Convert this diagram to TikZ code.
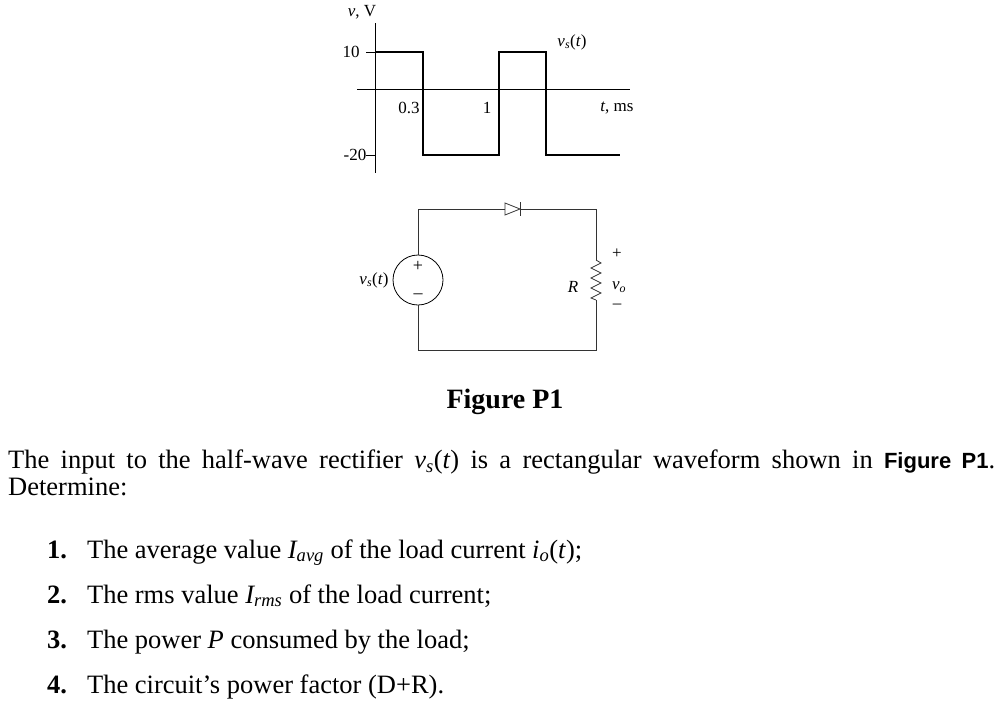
\documentclass[tikz,border=0pt]{standalone}
\usepackage{fontspec}
\setmainfont{Liberation Serif}
\setsansfont{Liberation Sans}
\usetikzlibrary{calc}
\begin{document}
\begin{tikzpicture}[x=1pt,y=-1pt,
  wire/.style={line width=0.8pt,draw=black!80},
  wave/.style={line width=2.2pt,line join=miter},
  ax/.style={line width=1pt},
  lbl/.style={font=\fontsize{17}{19}\selectfont,inner sep=0pt},
  body/.style={font=\fontsize{26.5}{27}\selectfont,inner sep=0pt,anchor=base west}]
\useasboundingbox (0,0) rectangle (1002,702);
% graph
\draw[ax] (375,23) -- (375,173);
\draw[ax] (357,89) -- (630,89);
\draw[ax] (366,52) -- (375,52);
\draw[ax] (366,155) -- (375,155);
\draw[wave] (375,52) -- (423,52) -- (423,155) -- (499,155) -- (499,52) -- (546,52) -- (546,155) -- (620,155);
\node[lbl] (vV) at (362,12) {\textit{v}, V};
\node[lbl] (t10) at (351,52) {10};
\node[lbl] (tm20) at (355,155) {-20};
\node[lbl] (t03) at (409,108) {0.3};
\node[lbl] (t1) at (487,108) {1};
\node[lbl] (tms) at (617,108) {\textit{t}, ms};
\node[lbl] (vst) at (572,42) {\textit{v\textsubscript{s}}(\textit{t})};
% circuit
\coordinate (tl) at (418,209);
\coordinate (tr) at (596,209);
\coordinate (bl) at (418,350);
\coordinate (br) at (596,350);
\node[circle,draw,line width=0.8pt,minimum size=50pt,inner sep=0pt] (src) at (418,280) {};
\node[lbl,font=\fontsize{18}{18}\selectfont] (sp) at (418,266) {+};
\node[lbl,font=\fontsize{18}{18}\selectfont] (sm) at (418,296) {--};
\coordinate (da) at (505,209);
\coordinate (dk) at (520,209);
\draw[wire] (src.north) -- (tl) -- (da);
\draw[wire,fill=white] (da) ++(0,-6) -- ++(0,12) -- (dk) -- cycle;
\draw[wire] ($(dk)+(0,-7)$) -- ($(dk)+(0,7)$);
\draw[wire] (dk) -- (tr) -- (596,260);
\draw[wire] (596,260) -- (601,263) -- (591,268) -- (601,273) -- (591,278) -- (601,283) -- (591,288) -- (601,293) -- (591,298) -- (596,300);
\draw[wire] (596,300) -- (br) -- (bl) -- (src.south);
\node[lbl] (vsl) at (374,280) {\textit{v\textsubscript{s}}(\textit{t})};
\node[lbl] (R) at (573,287) {\textit{R}};
\node[lbl] (vp) at (617,254) {+};
\node[lbl] (vo) at (619,287) {\textit{v\textsubscript{o}}};
\node[lbl] (vm) at (617,306) {--};
% text
\node[font=\bfseries\fontsize{28}{30}\selectfont,inner sep=0pt] (fig) at (505,402) {Figure P1};
\node[body,anchor=north west,text width=987pt,align=justify] (par) at (8,450) {The input to the half-wave rectifier \textit{v\textsubscript{s}}(\textit{t}) is a rectangular waveform shown in {\sffamily\bfseries\fontsize{22}{25}\selectfont Figure P1}.\linebreak \mbox{Determine:}};
\node[body] (n1) at (47,558) {\textbf{1.}\hspace{20pt}The average value \textit{I\textsubscript{avg}} of the load current \textit{i\textsubscript{o}}(\textit{t});};
\node[body] (n2) at (47,603) {\textbf{2.}\hspace{20pt}The rms value \textit{I\textsubscript{rms}} of the load current;};
\node[body] (n3) at (47,648) {\textbf{3.}\hspace{20pt}The power \textit{P} consumed by the load;};
\node[body] (n4) at (47,693) {\textbf{4.}\hspace{20pt}The circuit's power factor (D+R).};
\end{tikzpicture}
\end{document}
